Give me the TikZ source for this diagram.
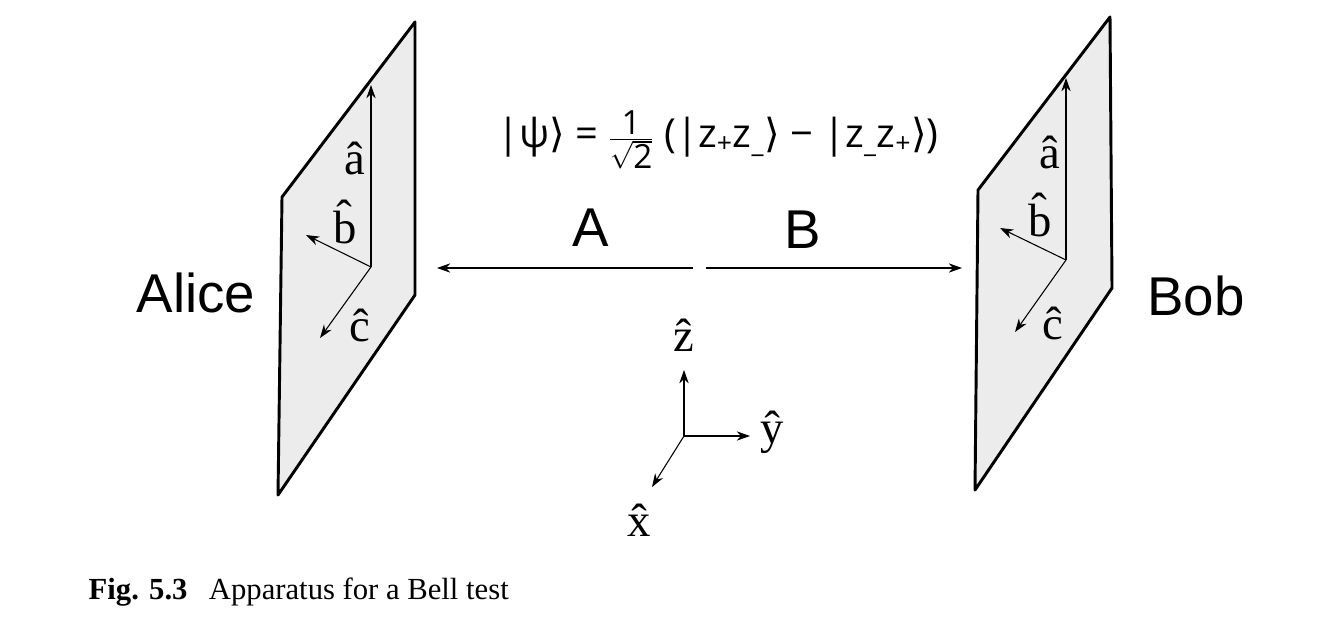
\documentclass[tikz,border=0pt]{standalone}
\usepackage{fontspec}
\setmainfont{Liberation Serif}
\newfontfamily\sansf{Liberation Sans}
\newfontfamily\opens{Open Sans}
\newfontfamily\dejav{DejaVu Sans}
\usetikzlibrary{arrows.meta}
\newcommand{\smo}[1]{\mbox{\opens\fontsize{20}{20}\selectfont #1}}
\newcommand{\frn}[1]{\mbox{\opens\fontsize{25}{25}\selectfont #1}}
\newcommand{\rang}{{\dejav\fontsize{30}{30}\selectfont ⟩}}
\begin{document}
\begin{tikzpicture}[x=0.75pt,y=-0.75pt,
  plane/.style={draw=black,line width=2.2pt,fill=gray!15,line join=round},
  vec/.style={-{Stealth[length=10pt,width=7pt]},line width=0.8pt},
  hatl/.style={font=\fontsize{35}{35}\selectfont,inner sep=0pt},
  big/.style={font=\sansf\fontsize{41}{43}\selectfont}]
\useasboundingbox (0,0) rectangle (1330,624);
% Alice plane
\draw[plane] (282,197) -- (415,22) -- (415,295) -- (278,495) -- cycle;
\coordinate (ao) at (371,267);
\coordinate (aa) at (371,85); \coordinate (ab) at (306,235); \coordinate (ac) at (320,338);
\draw[vec] (ao) -- (aa); \draw[vec] (ao) -- (ab); \draw[vec] (ao) -- (ac);
\node[hatl] (la) at (355,158) {â};
\node[hatl] (lb) at (345,222) {\^b};
\node[hatl] (lc) at (360,325) {ĉ};
% Bob plane
\draw[plane] (978,190) -- (1110,17) -- (1112,288) -- (975,490) -- cycle;
\coordinate (bo) at (1066,260);
\coordinate (ba) at (1066,78); \coordinate (bb) at (1000,228); \coordinate (bc) at (1015,332);
\draw[vec] (bo) -- (ba); \draw[vec] (bo) -- (bb); \draw[vec] (bo) -- (bc);
\node[hatl] (lba) at (1050,152) {â};
\node[hatl] (lbb) at (1040,215) {\^b};
\node[hatl] (lbc) at (1053,323) {ĉ};
\node[big] (alice) at (196,293) {Alice};
\node[big] (bob) at (1196,296) {Bob};
% A/B arrows
\coordinate (m1) at (693,268); \coordinate (l1) at (437,268);
\coordinate (m2) at (706,268); \coordinate (r2) at (962,268);
\draw[vec] (m1) -- (l1); \draw[vec] (m2) -- (r2);
\node[big] (A) at (591,228) {A};
\node[big] (B) at (803,230) {B};
% state
\node[font=\opens\fontsize{30}{32}\selectfont] (psi) at (718,140)
 {|ψ\rang{} = $\frac{\frn{1}}{\sqrt{\frn{2}}}$ (|z$_{\smo{+}}$z$_{\smo{\_}}$\rang{} − |z$_{\smo{\_}}$z$_{\smo{+}}$\rang)};
% axes
\coordinate (o) at (684,436);
\coordinate (z) at (684,370); \coordinate (y) at (750,436); \coordinate (x) at (652,487);
\draw[vec] (o) -- (z); \draw[vec] (o) -- (y); \draw[vec] (o) -- (x);
\node[hatl] (lz) at (684,335) {\^z};
\node[hatl] (ly) at (772,432) {ŷ};
\node[hatl] (lx) at (639,520) {\^x};
% caption
\node[anchor=west,font=\fontsize{23}{25}\selectfont] (cap) at (84,592) {\textbf{Fig. 5.3}\hspace{0.7em}Apparatus for a Bell test};
\end{tikzpicture}
\end{document}
